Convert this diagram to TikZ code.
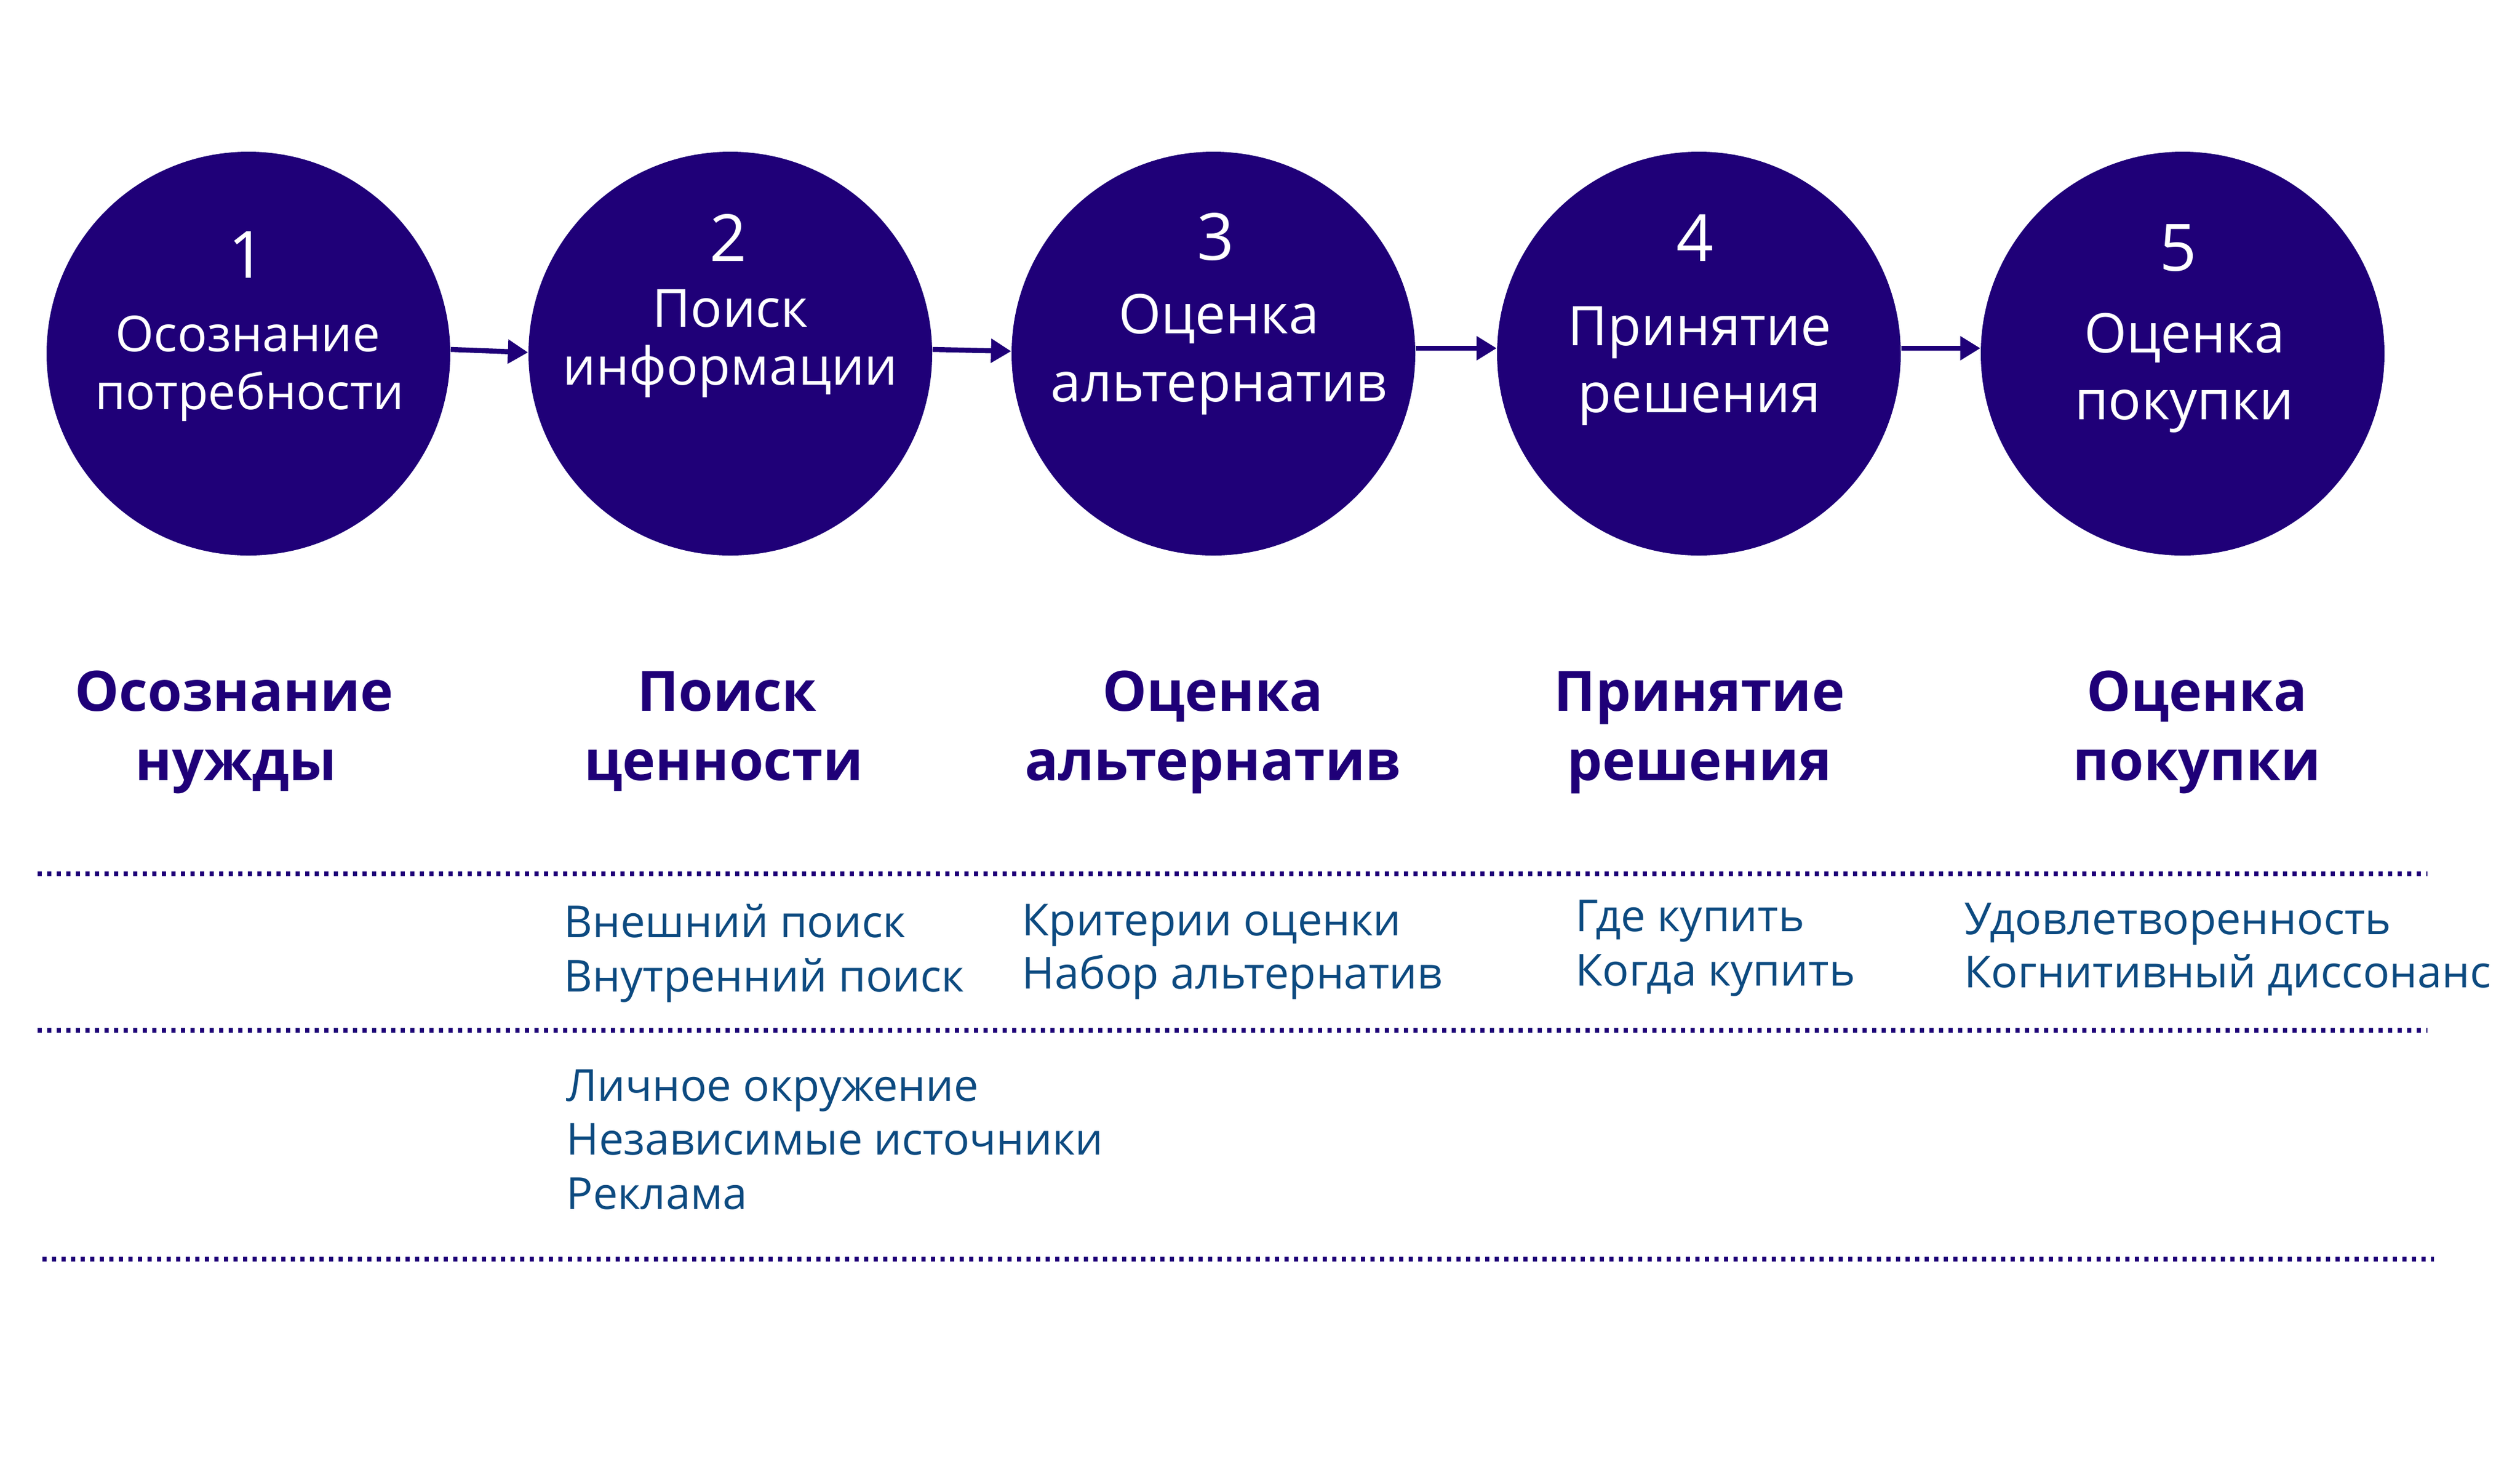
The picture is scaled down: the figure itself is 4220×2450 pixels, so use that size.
\documentclass[tikz,border=0pt]{standalone}
\usepackage{fontspec}
\setmainfont{Open Sans}
\usetikzlibrary{arrows.meta}
\definecolor{indigo}{RGB}{31,0,120}
\definecolor{itemblue}{RGB}{12,74,128}
\tikzset{
  stage/.style={circle,fill=indigo,draw=none,minimum size=676*0.01cm,inner sep=0pt},
  flow/.style={draw=indigo,line width=2.4pt,-{Triangle[length=9.6pt,width=11pt]},shorten >=0pt},
  num/.style={anchor=base,text=white,inner sep=0pt,font=\fontsize{31}{31}\selectfont},
  ctxt/.style={anchor=base,text=white,inner sep=0pt,font=\fontsize{23.5}{23.5}\selectfont},
  ctxtw/.style={anchor=base,text=white,inner sep=0pt,font=\fontsize{25}{25}\selectfont},
  ctxtb/.style={anchor=base,text=white,inner sep=0pt,font=\fontsize{26}{26}\selectfont},
  head/.style={anchor=base,text=indigo,inner sep=0pt,font=\fontsize{26.5}{26.5}\selectfont\bfseries},
  item/.style={anchor=base west,text=itemblue,inner sep=0pt,font=\fontsize{21}{21}\selectfont},
  sep/.style={draw=indigo,line width=2.2pt,dash pattern=on 2pt off 2.55pt}
}
\begin{document}
\begin{tikzpicture}[x=0.01cm,y=-0.01cm]
\useasboundingbox (0,0) rectangle (4220,2450);
% circles
\node[stage] (c1) at (416,592) {};
\node[stage] (c2) at (1223,592) {};
\node[stage] (c3) at (2032,592) {};
\node[stage] (c4) at (2845,592) {};
\node[stage] (c5) at (3655,592) {};
% arrows
\draw[flow] ([yshift=0.07cm]c1.east) -- ([yshift=0.02cm]c2.west);
\draw[flow] ([yshift=0.07cm]c2.east) -- ([yshift=0.04cm]c3.west);
\draw[flow] ([yshift=0.09cm]c3.east) -- ([yshift=0.09cm]c4.west);
\draw[flow] ([yshift=0.09cm]c4.east) -- ([yshift=0.09cm]c5.west);
% circle texts
\node[num] (n1) at (414,465) {1};
\node[ctxt] (t1a) at (415,588) {Осознание};
\node[ctxt] (t1b) at (418,685) {потребности};
\node[num] (n2) at (1220,437) {2};
\node[ctxtw] (t2a) at (1223,547) {Поиск};
\node[ctxtw] (t2b) at (1223,644) {информации};
\node[num] (n3) at (2036,435) {3};
\node[ctxtb] (t3a) at (2041,558) {Оценка};
\node[ctxtb] (t3b) at (2041,672) {альтернатив};
\node[num] (n4) at (2839,437) {4};
\node[ctxtb] (t4a) at (2846,578) {Принятие};
\node[ctxtb] (t4b) at (2846,690) {решения};
\node[num] (n5) at (3648,453) {5};
\node[ctxtb] (t5a) at (3658,590) {Оценка};
\node[ctxtb] (t5b) at (3658,702) {покупки};
% headings
\node[head] (h1a) at (392,1190) {Осознание};
\node[head] (h1b) at (395,1306) {нужды};
\node[head] (h2a) at (1217,1190) {Поиск};
\node[head] (h2b) at (1212,1306) {ценности};
\node[head] (h3a) at (2031,1190) {Оценка};
\node[head] (h3b) at (2031,1306) {альтернатив};
\node[head] (h4a) at (2846,1190) {Принятие};
\node[head] (h4b) at (2846,1306) {решения};
\node[head] (h5a) at (3679,1190) {Оценка};
\node[head] (h5b) at (3679,1306) {покупки};
% dotted separators
\draw[sep] (63,1463) -- (4065,1463);
\draw[sep] (63,1725) -- (4065,1725);
\draw[sep] (71,2108) -- (4076,2108);
% items
\node[item] (i2a) at (944,1569) {Внешний поиск};
\node[item] (i2b) at (944,1660) {Внутренний поиск};
\node[item] (i3a) at (1711,1566) {Критерии оценки};
\node[item] (i3b) at (1711,1655) {Набор альтернатив};
\node[item] (i4a) at (2638,1559) {Где купить};
\node[item] (i4b) at (2638,1650) {Когда купить};
\node[item] (i5a) at (3289,1564) {Удовлетворенность};
\node[item] (i5b) at (3289,1653) {Когнитивный диссонанс};
\node[item] (i2c) at (948,1843) {Личное окружение};
\node[item] (i2d) at (948,1933) {Независимые источники};
\node[item] (i2e) at (948,2024) {Реклама};
\end{tikzpicture}
\end{document}
